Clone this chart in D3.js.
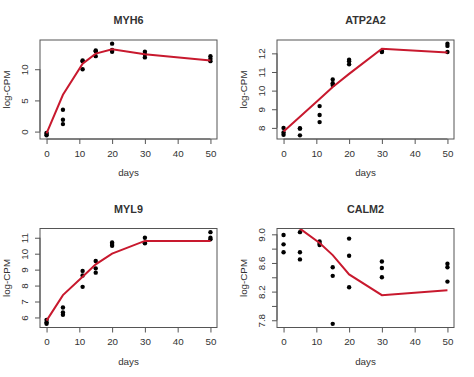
<!DOCTYPE html>
<html><head><meta charset="utf-8">
<script src="https://cdn.jsdelivr.net/npm/d3@7"></script>
<style>
body{margin:0;background:#fff;}
text{font-family:"Liberation Sans",Arial,sans-serif;fill:#333;}
</style></head>
<body><svg id="c" width="474" height="377"></svg>
<script>
const days = [0, 5, 11, 15, 20, 30, 50];
const xTicks = [0, 10, 20, 30, 40, 50];

const genes = ["MYH6", "ATP2A2", "MYL9", "CALM2"];

// replicate points per day (3 per day)
const myh6Points = [[-0.2,-0.4,-0.6],[3.5,1.9,1.2],[11.4,11.3,10.0],[13.0,12.9,12.1],[14.1,13.1,12.8],[12.8,12.4,11.9],[12.1,11.7,11.3]];
const myh6Fit = [-0.3, 5.9, 10.9, 12.5, 13.2, 12.4, 11.4];
const myh6Ticks = [0, 5, 10];

const atp2a2Points = [[8.0,7.75,7.63],[7.98,7.96,7.6],[9.17,8.69,8.31],[10.6,10.4,10.3],[11.66,11.57,11.41],[12.12,12.07,12.1],[12.52,12.4,12.07]];
const atp2a2Fit = [7.8, 8.6, 9.55, 10.2, 10.9, 12.25, 12.05];
const atp2a2Ticks = [8, 9, 10, 11, 12];

const myl9Points = [[5.85,5.7,5.6],[6.62,6.31,6.17],[8.92,8.63,7.92],[9.54,9.08,8.81],[10.7,10.6,10.5],[11.0,10.69,10.65],[11.35,11.0,10.9]];
const myl9Fit = [5.8, 7.4, 8.55, 9.33, 10.0, 10.8, 10.8];
const myl9Ticks = [6, 7, 8, 9, 10, 11];

const calm2Points = [[8.99,8.86,8.75],[9.03,8.75,8.65],[8.9,8.87,8.85],[8.54,8.42,7.75],[8.94,8.70,8.26],[8.62,8.53,8.40],[8.59,8.54,8.34]];
const calm2Fit = [9.2, 9.08, 8.88, 8.71, 8.44, 8.15, 8.22];
const calm2Ticks = [7.8, 8.0, 8.2, 8.4, 8.6, 8.8, 9.0];
const calm2Labels = ["7.8", "", "8.2", "", "8.6", "", "9.0"];

const panels = [
  {name: genes[0], pts: myh6Points, fit: myh6Fit, ticks: myh6Ticks, labels: myh6Ticks.map(String)},
  {name: genes[1], pts: atp2a2Points, fit: atp2a2Fit, ticks: atp2a2Ticks, labels: atp2a2Ticks.map(String)},
  {name: genes[2], pts: myl9Points, fit: myl9Fit, ticks: myl9Ticks, labels: myl9Ticks.map(String)},
  {name: genes[3], pts: calm2Points, fit: calm2Fit, ticks: calm2Ticks, labels: calm2Labels}
];

const svg = d3.select("#c");
const pw = 237, ph = 188.5;
const box = {l: 40, r: 217, t: 40, b: 139};
const axisCol = "#555";
const fs = 9.8;

panels.forEach((p, i) => {
  const col = i % 2, row = Math.floor(i / 2);
  const g = svg.append("g").attr("transform", `translate(${col*pw},${row*ph})`);
  const allY = p.pts.flat();
  const ymin = d3.min(allY), ymax = d3.max(allY), ext = (ymax - ymin) * 0.04;
  const x = d3.scaleLinear().domain([-2, 52]).range([box.l, box.r]);
  const y = d3.scaleLinear().domain([ymin - ext, ymax + ext]).range([box.b, box.t]);

  const clipId = "clip" + i;
  g.append("clipPath").attr("id", clipId).append("rect")
    .attr("x", box.l).attr("y", box.t).attr("width", box.r - box.l).attr("height", box.b - box.t);

  // points
  const pts = [];
  p.pts.forEach((arr, j) => arr.forEach(v => pts.push([days[j], v])));
  g.append("g").selectAll("circle").data(pts).join("circle")
    .attr("cx", d => x(d[0])).attr("cy", d => y(d[1])).attr("r", 2.2).attr("fill", "#000");

  // fitted line
  g.append("path").datum(days.map((d, j) => [d, p.fit[j]]))
    .attr("clip-path", `url(#${clipId})`)
    .attr("d", d3.line().x(d => x(d[0])).y(d => y(d[1])))
    .attr("fill", "none").attr("stroke", "#c8192e").attr("stroke-width", 2);

  // box
  g.append("rect").attr("x", box.l).attr("y", box.t).attr("width", box.r - box.l).attr("height", box.b - box.t)
    .attr("fill", "none").attr("stroke", axisCol).attr("stroke-width", 1);

  // x axis
  const xa = g.append("g").attr("transform", `translate(0,${box.b})`)
    .call(d3.axisBottom(x).tickValues(xTicks).tickSize(5).tickPadding(6).tickFormat(d3.format("d")));
  xa.select(".domain").attr("d", `M${x(0)},0H${x(50)}`).attr("stroke", axisCol);
  xa.selectAll(".tick line").attr("stroke", axisCol);
  xa.selectAll("text").attr("font-size", fs).attr("fill", "#333").style("font-family", "Liberation Sans, Arial, sans-serif");

  // y axis
  const ya = g.append("g").attr("transform", `translate(${box.l},0)`)
    .call(d3.axisLeft(y).tickValues(p.ticks).tickSize(5).tickFormat((d, k) => p.labels[k]));
  ya.select(".domain").attr("d", `M0,${y(p.ticks[0])}V${y(p.ticks[p.ticks.length-1])}`).attr("stroke", axisCol);
  ya.selectAll(".tick line").attr("stroke", axisCol);
  ya.selectAll("text").attr("font-size", fs).attr("fill", "#333")
    .attr("x", null).attr("dy", null).attr("text-anchor", "middle")
    .attr("transform", "translate(-12.5,0) rotate(-90)")
    .style("font-family", "Liberation Sans, Arial, sans-serif");

  // title
  g.append("text").attr("x", (box.l + box.r) / 2).attr("y", 24).attr("text-anchor", "middle")
    .attr("font-weight", "bold").attr("font-size", 10.8).attr("fill", "#111").text(p.name);
  // x label
  g.append("text").attr("x", (box.l + box.r) / 2).attr("y", 176).attr("text-anchor", "middle")
    .attr("font-size", fs).text("days");
  // y label
  g.append("text").attr("transform", `translate(9.5,${(box.t + box.b) / 2}) rotate(-90)`).attr("text-anchor", "middle")
    .attr("font-size", fs).text("log-CPM");
});
</script></body></html>
